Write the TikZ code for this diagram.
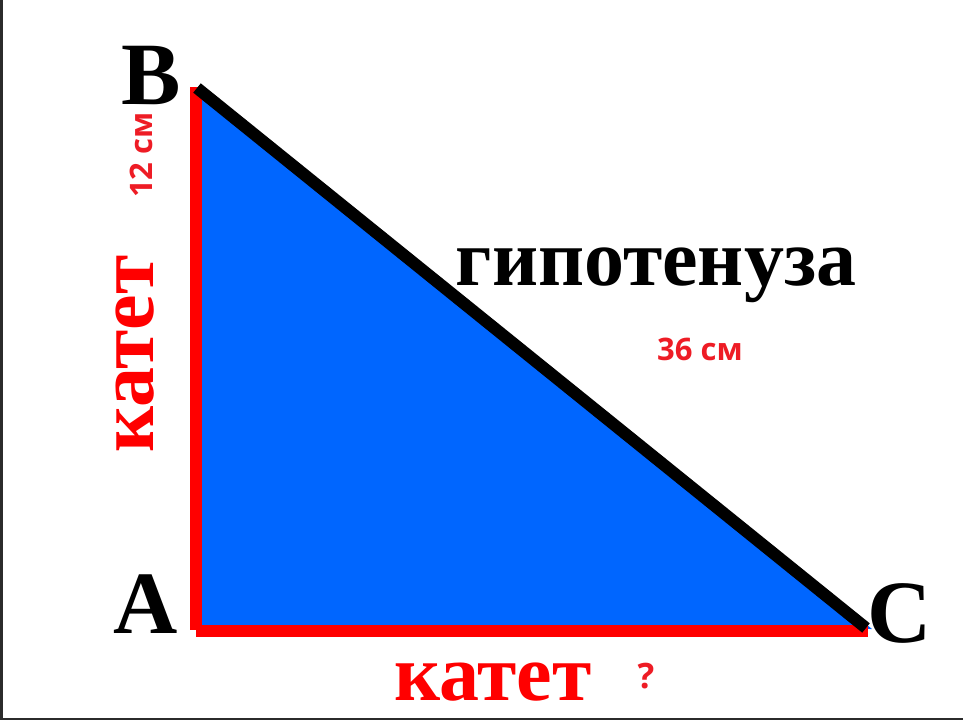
\documentclass[tikz,border=0pt]{standalone}
\usepackage{fontspec}
\setmainfont{Liberation Serif}
\newfontfamily\labsans{Open Sans}
\definecolor{triblue}{HTML}{0066FF}
\definecolor{legred}{HTML}{FF0000}
\definecolor{txtred}{HTML}{EE1C25}
\definecolor{frame}{HTML}{2B2B2B}
\tikzset{
  vlabel/.style={font=\fontsize{89}{89}\selectfont\bfseries, inner sep=0pt, anchor=base},
  serifred/.style={font=\fontsize{80}{80}\selectfont\bfseries, text=legred, inner sep=0pt, anchor=base},
  sanslab/.style={font=\labsans\fontsize{31}{31}\selectfont\bfseries, text=txtred, inner sep=0pt, anchor=base},
}
\begin{document}
\begin{tikzpicture}[x=1pt,y=-1pt]
\useasboundingbox (0,0) rectangle (963,720);
\fill[white] (0,0) rectangle (963,720);
\fill[frame] (0,0) rectangle (3,720);
\fill[frame] (0,718) rectangle (963,720);
% corners
\coordinate (B) at (197,88);
\coordinate (C) at (866,628);
\coordinate (Bi) at (202,92);
\coordinate (Ai) at (202,625);
\coordinate (Ci) at (872,629);
% blue triangle
\fill[triblue] (Bi) -- (Ai) -- (Ci) -- cycle;
% red legs
\fill[legred] (190,87) rectangle (202,630);
\fill[legred] (196,625) rectangle (868,637);
% hypotenuse
\draw[line width=12pt, line cap=butt] (B) -- (C);
% vertex labels
\node[vlabel] (lB) at (151,104) {B};
\node[vlabel] (lA) at (146,633) {A};
\node[vlabel] (lC) at (900,642) {C};
% texts
\node[font=\fontsize{80}{80}\selectfont\bfseries, inner sep=0pt, anchor=base] (hyp) at (656,285) {гипотенуза};
\node[sanslab] (h36) at (700,360) {36 см};
\node[serifred, rotate=90] (katv) at (153,354) {катет};
\node[sanslab, rotate=90] (l12) at (152,155) {12 см};
\node[serifred] (kath) at (493,700) {катет};
\node[sanslab, font=\labsans\fontsize{35}{35}\selectfont\bfseries] (q) at (646,688) {?};
\end{tikzpicture}
\end{document}
